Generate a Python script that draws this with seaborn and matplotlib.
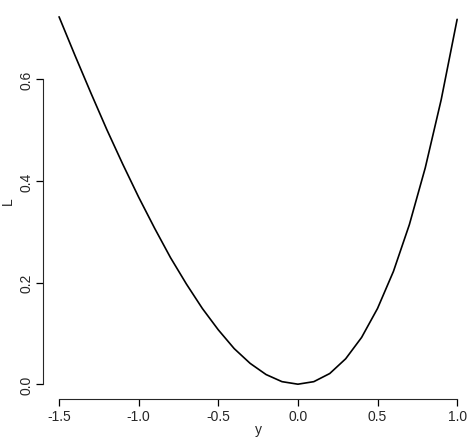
import matplotlib
matplotlib.use("Agg")
import matplotlib.pyplot as plt
import seaborn as sns
import pandas as pd

# values
y_vals = [-1.5, -1.4, -1.3, -1.2, -1.1, -1.0, -0.9, -0.8, -0.7, -0.6, -0.5, -0.4, -0.3,
          -0.2, -0.1, 0.0, 0.1, 0.2, 0.3, 0.4, 0.5, 0.6, 0.7, 0.8, 0.9, 1.0]
L_vals = [0.723, 0.647, 0.573, 0.501, 0.433, 0.368, 0.307, 0.249, 0.197, 0.149, 0.107,
          0.070, 0.041, 0.019, 0.005, 0.000, 0.005, 0.021, 0.050, 0.092, 0.149, 0.222,
          0.314, 0.426, 0.560, 0.718]
x_ticks = [-1.5, -1.0, -0.5, 0.0, 0.5, 1.0]
y_ticks = [0.0, 0.2, 0.4, 0.6]

sns.set_style("ticks")
plt.rcParams['font.family'] = ['Liberation Sans', 'DejaVu Sans']

df = pd.DataFrame({"y": y_vals, "L": L_vals})
fig = plt.figure(figsize=(4.74, 4.39), dpi=100)
ax = fig.add_axes([0.091, 0.089, 0.907, 0.904])
sns.lineplot(data=df, x="y", y="L", color="black", linewidth=1.2, ax=ax)

ax.set_xlim(-1.6, 1.1)
ax.set_ylim(-0.029, 0.752)
ax.set_xticks(x_ticks)
ax.set_xticklabels([f"{t:.1f}" for t in x_ticks])
ax.set_yticks(y_ticks)
ax.set_yticklabels([f"{t:.1f}" for t in y_ticks], rotation=90, va="center")
for s in ["top", "right"]:
    ax.spines[s].set_visible(False)
ax.spines["bottom"].set_bounds(-1.5, 1.0)
ax.spines["left"].set_bounds(0.0, 0.6)
ax.tick_params(length=5, width=0.9, labelsize=10, color="black", pad=2)
ax.set_xlabel("y", fontsize=10)
ax.set_ylabel("L", fontsize=10)
ax.xaxis.set_label_coords(0.5, -0.058)
ax.yaxis.set_label_coords(-0.066, 0.5)

fig.savefig("out.png", dpi=100)
